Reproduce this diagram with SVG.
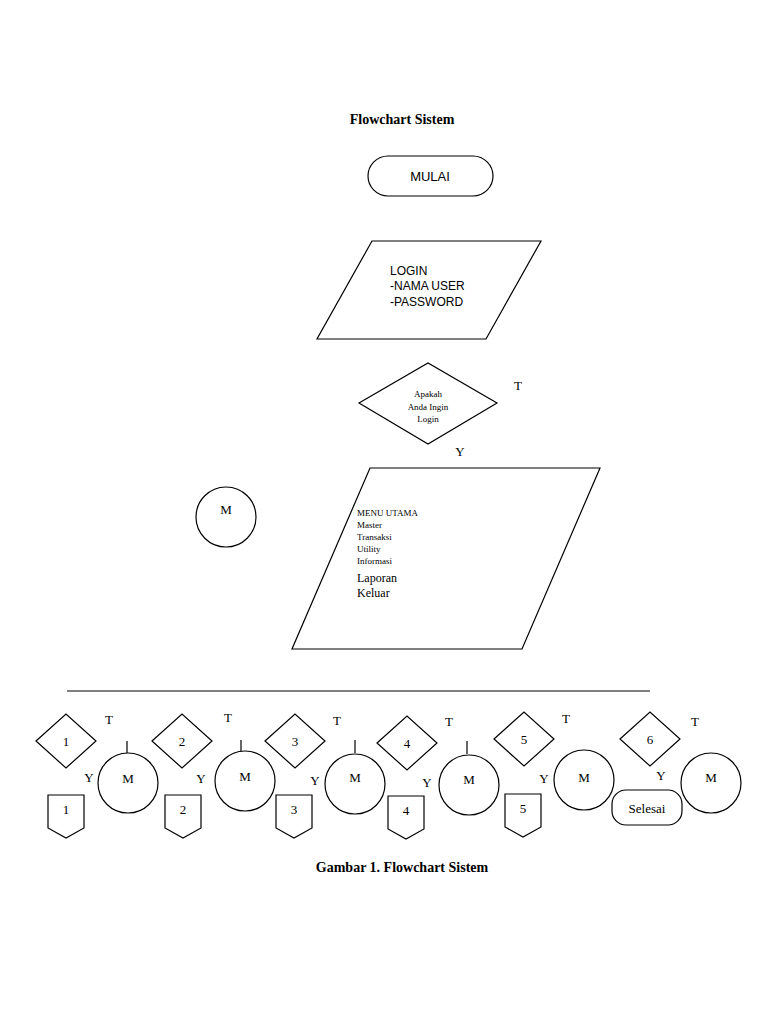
<svg xmlns="http://www.w3.org/2000/svg" width="768" height="1024" viewBox="0 0 768 1024">
<style>
.s{fill:#fff;stroke:#000;stroke-width:1.2}
.l{stroke:#000;stroke-width:1.2;fill:none}
.t{font-family:"Liberation Serif",serif;font-size:13px;text-anchor:middle;fill:#000}
.b{font-weight:bold;font-size:14px}
.a{font-family:"Liberation Sans",sans-serif;font-size:12px}
.sm{font-family:"Liberation Serif",serif;font-size:9px}
.md{font-family:"Liberation Serif",serif;font-size:12px}
</style>
<rect width="768" height="1024" fill="#fff"/>
<text class="t b" x="402" y="124">Flowchart Sistem</text>
<g id="mulai"><rect class="s" x="368" y="156" width="125" height="40" rx="20"/><text class="a" x="430" y="181" text-anchor="middle" style="font-size:13px">MULAI</text></g>
<g id="login"><polygon class="s" points="372,241 541,241 486,339 317,339"/>
<text class="a" x="390" y="275">LOGIN</text><text class="a" x="390" y="290">-NAMA USER</text><text class="a" x="390" y="306">-PASSWORD</text></g>
<g id="cek"><polygon class="s" points="359,403 428,363 497,403 428,444"/>
<text class="sm" x="428" y="397" text-anchor="middle">Apakah</text><text class="sm" x="428" y="410" text-anchor="middle">Anda Ingin</text><text class="sm" x="428" y="422" text-anchor="middle">Login</text></g>
<g id="menu"><polygon class="s" points="370,468 600,468 522,649 292,649"/>
<text class="sm" x="357" y="516">MENU UTAMA</text><text class="sm" x="357" y="528">Master</text><text class="sm" x="357" y="540">Transaksi</text><text class="sm" x="357" y="552">Utility</text><text class="sm" x="357" y="564">Informasi</text>
<text class="md" x="357" y="582">Laporan</text><text class="md" x="357" y="597">Keluar</text></g>
<g id="m0"><circle class="s" cx="226" cy="517" r="30"/><text class="t" x="226" y="514">M</text></g>
<g id="connectors">
<line class="l" x1="67" y1="691" x2="650" y2="691"/>
<line class="l" x1="127" y1="741" x2="127" y2="753"/>
<line class="l" x1="241" y1="740" x2="241" y2="752"/>
<line class="l" x1="355" y1="740" x2="355" y2="753"/>
<line class="l" x1="467" y1="741" x2="467" y2="754"/>
</g>
<g class="t">
<text x="518" y="390">T</text><text x="460" y="456">Y</text>
<text x="109" y="724">T</text><text x="228" y="722">T</text><text x="337" y="725">T</text><text x="449" y="726">T</text><text x="566" y="723">T</text><text x="695" y="726">T</text>
<text x="89" y="782">Y</text><text x="201" y="783">Y</text><text x="315" y="785">Y</text><text x="427" y="787">Y</text><text x="544" y="783">Y</text><text x="661" y="780">Y</text>
</g>
<g id="d1"><polygon class="s" points="36,741 66,714 96,741 66,768"/><text class="t" x="66" y="746">1</text></g>
<g id="d2"><polygon class="s" points="152,741 182,714 212,741 182,768"/><text class="t" x="182" y="746">2</text></g>
<g id="d3"><polygon class="s" points="265,741 295,714 325,741 295,768"/><text class="t" x="295" y="746">3</text></g>
<g id="d4"><polygon class="s" points="377,743 407,716 437,743 407,770"/><text class="t" x="407" y="748">4</text></g>
<g id="d5"><polygon class="s" points="494,739 524,712 554,739 524,766"/><text class="t" x="524" y="744">5</text></g>
<g id="d6"><polygon class="s" points="620,739 650,712 680,739 650,766"/><text class="t" x="650" y="744">6</text></g>
<g id="c1"><circle class="s" cx="128" cy="783" r="30"/><text class="t" x="128" y="783">M</text></g>
<g id="c2"><circle class="s" cx="245" cy="781" r="30"/><text class="t" x="245" y="781">M</text></g>
<g id="c3"><circle class="s" cx="355" cy="784" r="30"/><text class="t" x="355" y="782">M</text></g>
<g id="c4"><circle class="s" cx="469" cy="785" r="30"/><text class="t" x="469" y="784">M</text></g>
<g id="c5"><circle class="s" cx="584" cy="780" r="30"/><text class="t" x="584" y="782">M</text></g>
<g id="c6"><circle class="s" cx="711" cy="783" r="30"/><text class="t" x="711" y="782">M</text></g>
<g id="p1"><polygon class="s" points="48,795 84,795 84,828 66,838 48,828"/><text class="t" x="66" y="814">1</text></g>
<g id="p2"><polygon class="s" points="165,795 201,795 201,828 183,838 165,828"/><text class="t" x="183" y="814">2</text></g>
<g id="p3"><polygon class="s" points="276,795 312,795 312,828 294,838 276,828"/><text class="t" x="294" y="814">3</text></g>
<g id="p4"><polygon class="s" points="388,796 424,796 424,829 406,839 388,829"/><text class="t" x="406" y="815">4</text></g>
<g id="p5"><polygon class="s" points="505,794 541,794 541,827 523,837 505,827"/><text class="t" x="523" y="813">5</text></g>
<g id="selesai"><rect class="s" x="612" y="790" width="70" height="35" rx="14"/><text class="t" x="647" y="813">Selesai</text></g>
<text class="t b" x="402" y="872">Gambar 1. Flowchart Sistem</text>
</svg>
